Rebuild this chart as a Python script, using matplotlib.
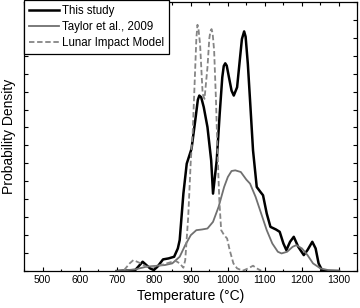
import matplotlib
matplotlib.use("Agg")
import matplotlib.pyplot as plt
import numpy as np

plt.rcParams["font.family"] = ["Liberation Sans", "DejaVu Sans"]

# probability density (arbitrary units)
study_t = [700, 750, 770, 790, 800, 810, 825, 840, 855, 865, 870, 880, 889, 902,
           912, 919, 923, 928, 935, 945, 955, 960, 970, 978, 985, 989, 993, 997,
           1003, 1010, 1016, 1025, 1033, 1038, 1044, 1048, 1054, 1060, 1068, 1078,
           1088, 1095, 1105, 1115, 1130, 1140, 1150, 1158, 1168, 1178, 1190, 1205,
           1215, 1228, 1237, 1245, 1255, 1260, 1300]
study_d = [0, 0.3, 2.8, 0.8, 0.3, 1.3, 3.5, 3.8, 4.3, 6.8, 9.3, 23.3, 32.3, 36.8,
           45.3, 51.5, 52.8, 52.3, 49.3, 43.3, 33.3, 23.3, 33.3, 47.3, 58.3, 61.7,
           62.5, 61.8, 58.3, 54.3, 52.8, 55.3, 64.3, 69.8, 72.1, 70.5, 62.3, 51.3,
           36.3, 25.3, 23.8, 22.8, 17.3, 13.3, 12.5, 11.8, 8.3, 6.3, 8.8, 10.3,
           7.3, 4.8, 6.3, 8.8, 6.8, 2.3, 0.1, 0, 0]

taylor_t = [700, 750, 780, 800, 830, 850, 870, 885, 900, 915, 930, 945, 960, 975,
            990, 1000, 1010, 1020, 1035, 1050, 1060, 1075, 1090, 1105, 1120, 1135,
            1145, 1160, 1175, 1185, 1200, 1215, 1230, 1250, 1270, 1300]
taylor_d = [0, 0.5, 1.3, 1.5, 1.8, 2.3, 4.3, 7.8, 10.8, 12.3, 12.5, 12.8, 14.8,
            19.3, 25.3, 28.3, 30.1, 30.3, 29.8, 27.5, 26.3, 22.3, 17.3, 12.3, 8.3,
            5.8, 5.3, 5.8, 7.3, 7.8, 6.8, 4.8, 2.3, 0.8, 0.3, 0.1]

lunar_t = [720, 735, 745, 765, 780, 800, 820, 835, 850, 860, 870, 880, 885, 893,
           900, 905, 912, 915, 918, 921, 925, 932, 937, 945, 950, 953, 956, 959,
           963, 968, 972, 977, 982, 990, 998, 1005, 1015, 1025, 1040, 1055, 1068,
           1078, 1090]
lunar_d = [0.3, 2.3, 3.3, 2.3, 1.3, 1.3, 1.8, 2.3, 2.8, 3.0, 2.3, 1.0, 3.3, 16.3,
           33.3, 41.3, 61.3, 70.0, 74.1, 72.5, 68.3, 53.3, 51.8, 61.3, 70.0, 72.2,
           72.8, 71.5, 66.3, 51.3, 36.3, 21.3, 12.3, 10.8, 9.8, 6.3, 2.3, 0.8, 0.1,
           0.8, 1.6, 0.8, 0.1]

fig = plt.figure(figsize=(3.6, 3.08), dpi=100)
ax = fig.add_axes([0.067, 0.12, 0.926, 0.874])

ax.plot(study_t, study_d, color="black", lw=1.8, label="This study")
ax.plot(taylor_t, taylor_d, color="#707070", lw=1.3, label="Taylor et al., 2009")
ax.plot(lunar_t, lunar_d, color="#858585", lw=1.3, ls=(0, (3, 1.5)),
        label="Lunar Impact Model")

ax.set_xlim(450, 1350)
ax.set_ylim(0, 81)
ax.set_xticks(np.arange(500, 1301, 100))
ax.set_xticks(np.arange(450, 1351, 50), minor=True)
ax.set_yticks(np.arange(0, 81.1, 5.4))
ax.set_yticklabels([])
ax.tick_params(direction="in", top=True, right=True, labelsize=7.5,
               length=3, width=0.8, pad=3)
ax.tick_params(which="minor", direction="in", top=True, length=1.8, width=0.8)
for s in ax.spines.values():
    s.set_linewidth(0.9)

ax.set_xlabel("Temperature (°C)", fontsize=10, labelpad=3)
ax.set_ylabel("Probability Density", fontsize=10, labelpad=3)

leg = ax.legend(loc="upper left", bbox_to_anchor=(0, 1.007), fontsize=8.3,
                borderaxespad=0, fancybox=False, edgecolor="black",
                framealpha=1, handlelength=2.6, labelspacing=0.38,
                borderpad=0.4, handletextpad=0.3)
leg.get_frame().set_linewidth(0.9)

fig.savefig("out.png", dpi=100)
